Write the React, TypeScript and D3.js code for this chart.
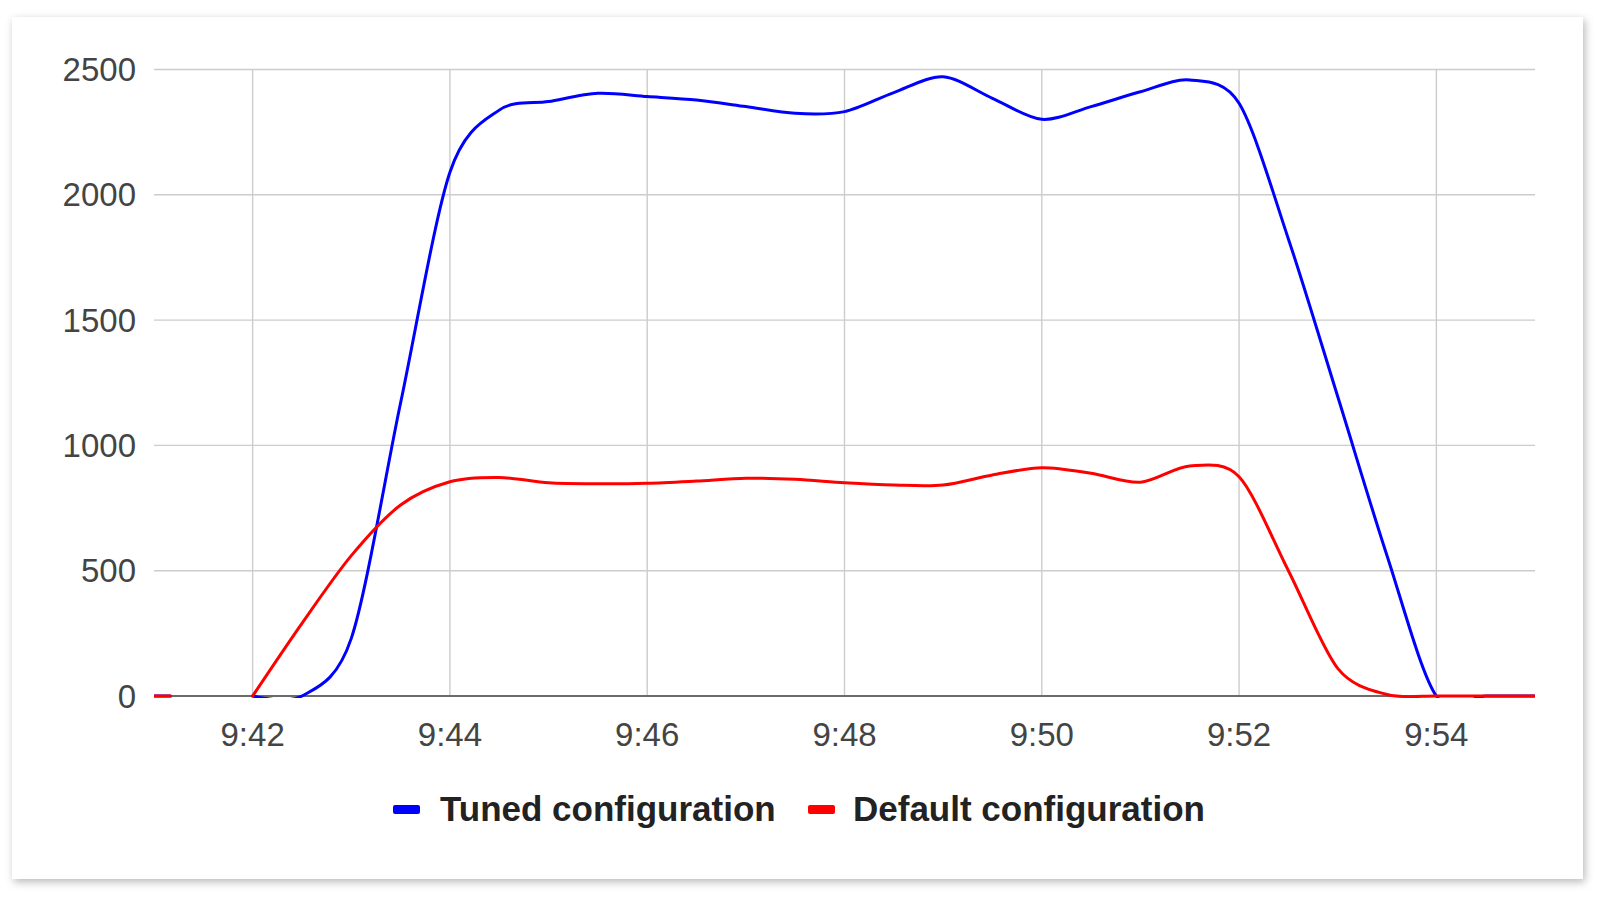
import React from "react";
import * as d3 from "d3";

// ---- data ----
const times = [
  "9:41:00", "9:41:10", "9:41:30",
  "9:42:00", "9:42:30", "9:43:00", "9:43:30", "9:44:00", "9:44:30",
  "9:45:00", "9:45:30", "9:46:00", "9:46:30", "9:47:00", "9:47:30",
  "9:48:00", "9:48:30", "9:49:00", "9:49:30", "9:50:00", "9:50:30",
  "9:51:00", "9:51:30", "9:52:00", "9:52:30", "9:53:00", "9:53:30",
  "9:54:00", "9:54:30", "9:55:00",
];

const tunedValues: (number | null)[] = [
  0, 0, null,
  0, 0, 230, 1170, 2090, 2338,
  2372, 2405, 2392, 2378, 2352, 2325,
  2332, 2408, 2471, 2385, 2301, 2352,
  2411, 2458, 2365, 1824, 1195, 560,
  0, 0, 0,
];

const defaultValues: (number | null)[] = [
  0, 0, null,
  0, 290, 560, 762, 855, 872,
  851, 847, 849, 858, 869, 865,
  851, 842, 842, 882, 911, 889,
  853, 918, 875, 500, 110, 6,
  0, 0, 0,
];

const seriesNames = ["Tuned configuration", "Default configuration"];
const seriesColors = ["#0000ff", "#ff0000"];
const yTickValues = [0, 500, 1000, 1500, 2000, 2500];
const xDomain = ["9:41:00", "9:55:00"];

// ---- layout ----
const W = 1600;
const H = 900;
const card = { x: 12, y: 17, w: 1571, h: 862 };
const plot = { left: 154, right: 1535, top: 69.5, bottom: 696 };

export default function App() {
  const parse = d3.timeParse("%H:%M:%S");
  const dates = times.map((t) => parse(t) as Date);

  const x = d3
    .scaleTime()
    .domain(xDomain.map((t) => parse(t) as Date))
    .range([plot.left, plot.right]);
  const y = d3.scaleLinear().domain([0, 2500]).range([plot.bottom, plot.top]);

  const xTicks = x.ticks(d3.timeMinute.every(2) as d3.TimeInterval);
  const fmt = d3.timeFormat("%-H:%M");

  const line = d3
    .line<[Date, number | null]>()
    .defined((d) => d[1] !== null)
    .x((d) => x(d[0]))
    .y((d) => y(d[1] as number))
    .curve(d3.curveCardinal.tension(0.1));

  const series = [tunedValues, defaultValues].map((vals) =>
    dates.map((d, i) => [d, vals[i]] as [Date, number | null])
  );

  const font = "'Liberation Sans', Arial, sans-serif";

  const legendItems = [
    { swatch: 393, text: 440 },
    { swatch: 808, text: 853 },
  ];

  return (
    <svg
      width={W}
      height={H}
      style={{ position: "absolute", left: 0, top: 0, background: "#ffffff" }}
    >
      <defs>
        <filter id="shadow" x="-5%" y="-5%" width="110%" height="115%">
          <feDropShadow dx="2" dy="3" stdDeviation="4" floodColor="#000" floodOpacity="0.28" />
        </filter>
        <clipPath id="plotClip">
          <rect x={plot.left} y={0} width={plot.right - plot.left} height={plot.bottom + 2} />
        </clipPath>
      </defs>
      <rect x={0} y={0} width={W} height={H} fill="#ffffff" />
      <rect
        x={card.x}
        y={card.y}
        width={card.w}
        height={card.h}
        fill="#ffffff"
        filter="url(#shadow)"
      />

      {/* horizontal gridlines */}
      {yTickValues.filter((v) => v !== 0).map((v) => (
        <line
          key={"h" + v}
          x1={plot.left}
          x2={plot.right}
          y1={y(v)}
          y2={y(v)}
          stroke="#cccccc"
          strokeWidth={1.4}
        />
      ))}
      {/* vertical gridlines */}
      {xTicks.map((t) => (
        <line
          key={"v" + t.getTime()}
          x1={x(t)}
          x2={x(t)}
          y1={plot.top}
          y2={plot.bottom}
          stroke="#cccccc"
          strokeWidth={1.4}
        />
      ))}
      {/* baseline */}
      <line
        x1={plot.left}
        x2={plot.right}
        y1={y(0)}
        y2={y(0)}
        stroke="#6b6b6b"
        strokeWidth={2}
      />

      {/* y labels */}
      {yTickValues.map((v) => (
        <text
          key={"yl" + v}
          x={136}
          y={y(v)}
          dy="0.35em"
          textAnchor="end"
          fontFamily={font}
          fontSize={33}
          fill="#444444"
        >
          {v}
        </text>
      ))}
      {/* x labels */}
      {xTicks.map((t) => (
        <text
          key={"xl" + t.getTime()}
          x={x(t)}
          y={plot.bottom + 50}
          textAnchor="middle"
          fontFamily={font}
          fontSize={33}
          fill="#444444"
        >
          {fmt(t)}
        </text>
      ))}

      {/* series lines */}
      <g clipPath="url(#plotClip)">
        {series.map((s, i) => (
          <path
            key={"s" + i}
            d={line(s) || ""}
            fill="none"
            stroke={seriesColors[i]}
            strokeWidth={3}
            strokeLinejoin="round"
            strokeLinecap="round"
          />
        ))}
      </g>

      {/* legend */}
      {seriesNames.map((name, i) => (
        <g key={"lg" + i}>
          <rect
            x={legendItems[i].swatch}
            y={805}
            width={27}
            height={9}
            rx={2}
            fill={seriesColors[i]}
          />
          <text
            x={legendItems[i].text}
            y={821}
            fontFamily={font}
            fontSize={35}
            fontWeight="bold"
            fill="#222222"
          >
            {name}
          </text>
        </g>
      ))}
    </svg>
  );
}
